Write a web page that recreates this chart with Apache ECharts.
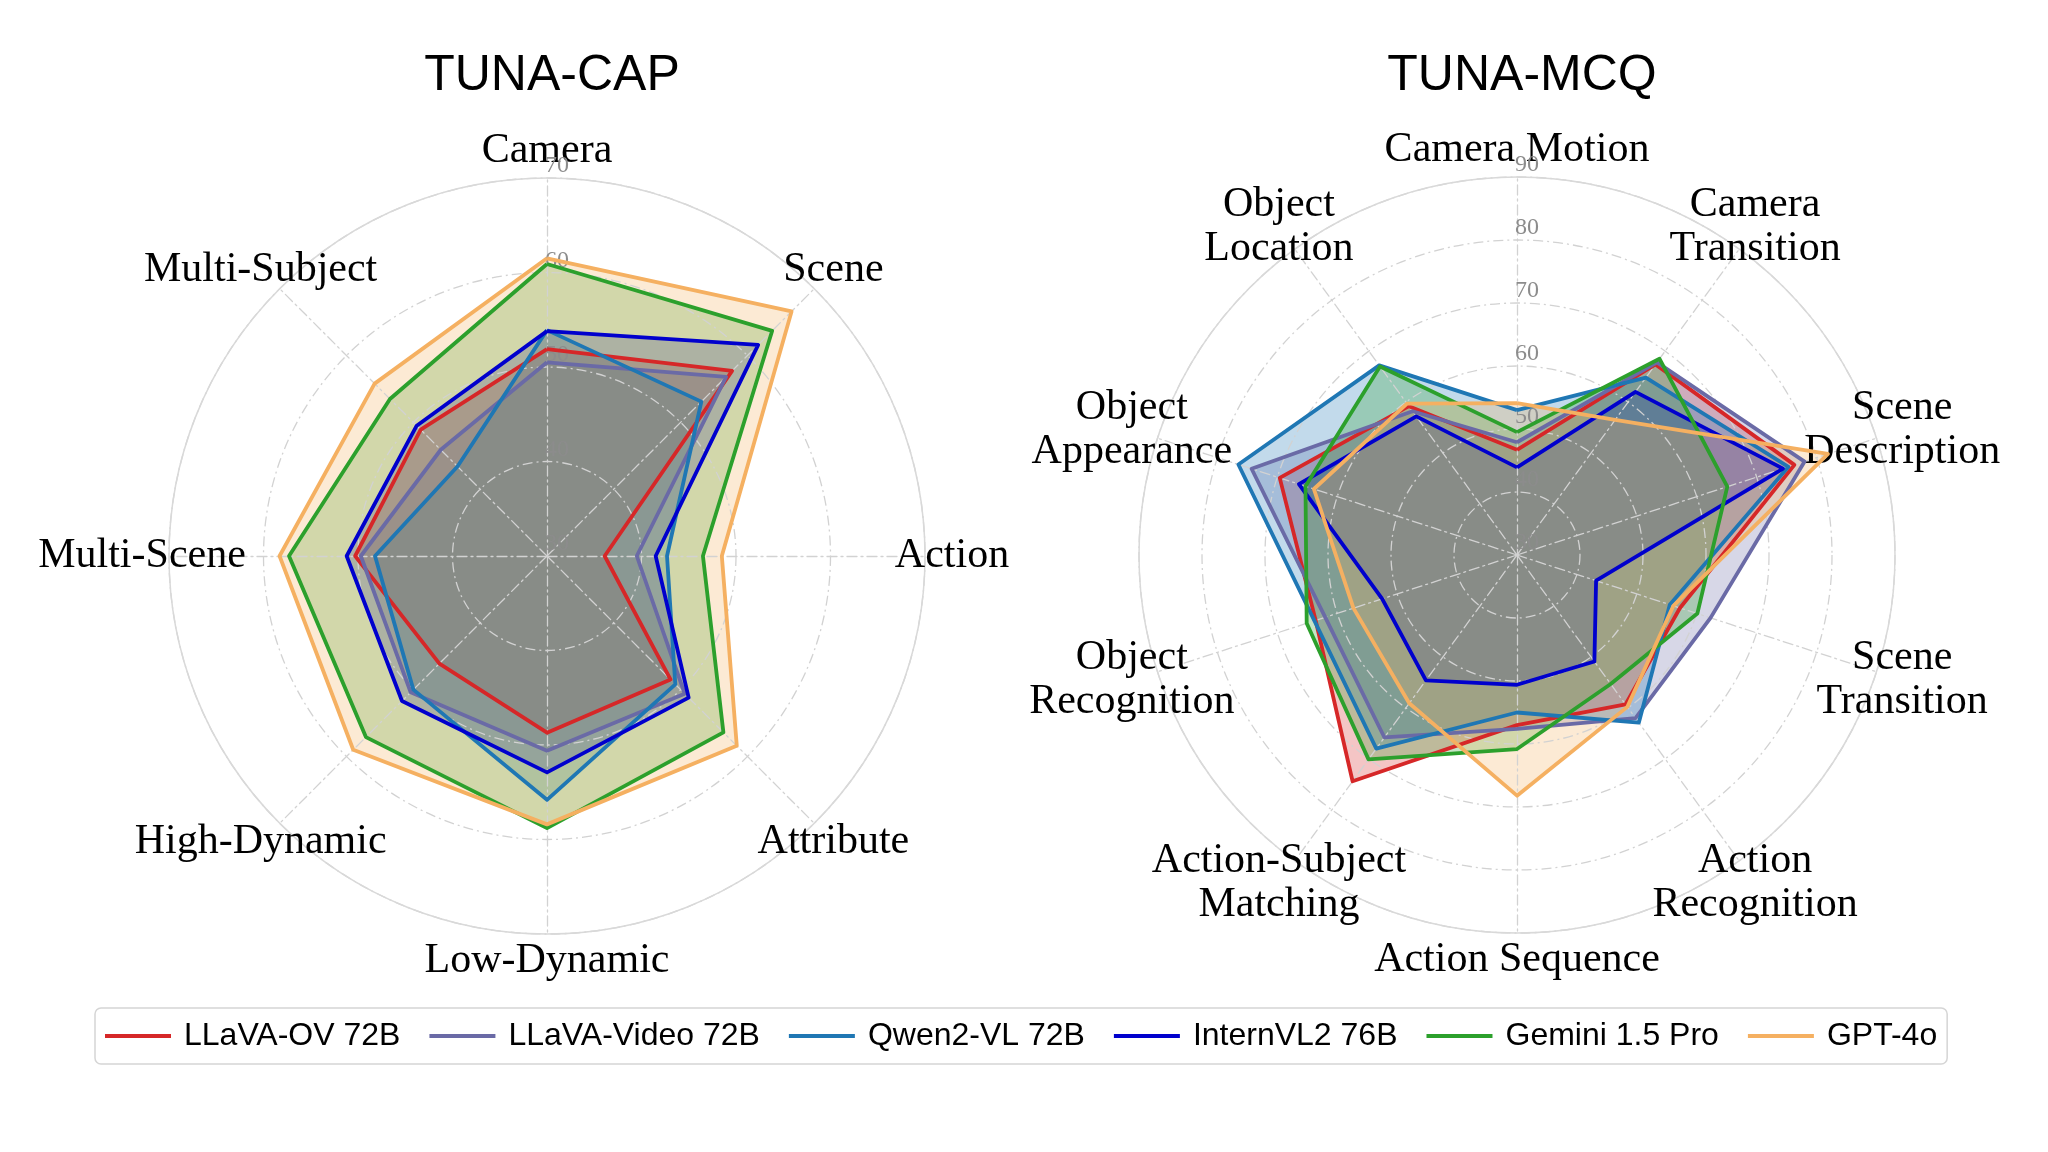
<!DOCTYPE html>
<html><head><meta charset="utf-8">
<script src="https://cdn.jsdelivr.net/npm/echarts@6/dist/echarts.min.js"></script>
<style>html,body{margin:0;padding:0;background:#fff}#chart{width:2048px;height:1152px}</style>
</head><body><div id="chart"></div>
<script>
// ---------- data ----------
const models = ['LLaVA-OV 72B', 'LLaVA-Video 72B', 'Qwen2-VL 72B', 'InternVL2 76B', 'Gemini 1.5 Pro', 'GPT-4o'];
const colors = ['#d62728', '#6a6aa6', '#1f77b4', '#0000cd', '#2ca02c', '#f5b061'];

// TUNA-CAP (clockwise from top)
const capCategories = ['Camera', 'Scene', 'Action', 'Attribute', 'Low-Dynamic', 'High-Dynamic', 'Multi-Scene', 'Multi-Subject'];
const capMin = 30, capMax = 70, capSplits = 4;
const capLlavaOV    = [51.9, 57.7, 36.1, 48.5, 48.7, 46.1, 50.3, 48.9];
const capLlavaVideo = [50.5, 56.8, 39.5, 50.6, 50.6, 50.4, 49.7, 45.9];
const capQwen2VL    = [53.9, 53.1, 42.7, 49.2, 55.8, 50.0, 48.2, 43.4];
const capInternVL2  = [53.8, 61.6, 41.5, 51.2, 52.9, 51.7, 51.2, 49.5];
const capGemini     = [60.9, 63.7, 46.5, 56.4, 58.8, 57.1, 57.3, 53.5];
const capGPT4o      = [61.5, 66.6, 48.5, 58.4, 58.4, 59.0, 58.3, 55.8];

// TUNA-MCQ (clockwise from top)
const mcqCategories = ['Camera Motion', 'Camera\nTransition', 'Scene\nDescription', 'Scene\nTransition', 'Action\nRecognition',
  'Action Sequence', 'Action-Subject\nMatching', 'Object\nRecognition', 'Object\nAppearance', 'Object\nLocation'];
const mcqMin = 30, mcqMax = 90, mcqSplits = 6;
const mcqLlavaOV    = [46.7, 67.4, 76.3, 57.2, 59.3, 57.0, 74.4, 63.6, 69.6, 59.2];
const mcqLlavaVideo = [47.9, 67.8, 78.0, 62.3, 62.0, 57.6, 65.8, 62.0, 74.3, 58.2];
const mcqQwen2VL    = [53.0, 64.8, 75.3, 55.5, 62.9, 55.0, 68.0, 63.8, 76.5, 67.2];
const mcqInternVL2  = [43.9, 62.0, 74.4, 43.2, 50.9, 50.6, 54.6, 52.5, 66.4, 57.2];
const mcqGemini     = [49.5, 68.5, 65.1, 60.1, 55.3, 60.8, 70.1, 65.1, 65.3, 67.0];
const mcqGPT4o      = [54.1, 56.5, 81.9, 56.1, 59.8, 68.2, 59.1, 57.3, 63.9, 59.7];

const titles = ['TUNA-CAP', 'TUNA-MCQ'];

// ---------- build ----------
const capValues = [capLlavaOV, capLlavaVideo, capQwen2VL, capInternVL2, capGemini, capGPT4o];
const mcqValues = [mcqLlavaOV, mcqLlavaVideo, mcqQwen2VL, mcqInternVL2, mcqGemini, mcqGPT4o];

// ECharts lays indicators counter-clockwise; reorder so they read clockwise
const cw = arr => [arr[0]].concat(arr.slice(1).reverse());

const gridColor = '#d2d2d2';
const dashDot = [10, 4, 2, 4];
const serif = "'Liberation Serif', 'Times New Roman', serif";
const sans = "'Liberation Sans', Arial, sans-serif";

function mainRadar(center, cats, min, max, splits) {
  const ind = cw(cats).map((c, i) => {
    const o = { name: c, min: min, max: max, nameMoveOverlap: false };
    if (i === 0) {
      o.axisLabel = { show: true, color: '#8c8c8c', fontSize: 24, fontFamily: serif,
        align: 'left', verticalAlign: 'bottom', margin: 2 };
    }
    return o;
  });
  return {
    center: center, radius: 378, startAngle: 90, shape: 'circle', splitNumber: splits, z: 3,
    indicator: ind,
    nameGap: 27,
    axisName: { color: '#000', fontSize: 42, fontFamily: serif, align: 'center', verticalAlign: 'middle', lineHeight: 44 },
    splitLine: { lineStyle: { color: gridColor, width: 1.3, type: dashDot } },
    splitArea: { show: false },
    axisLine: { lineStyle: { color: gridColor, width: 1.3, type: dashDot } },
    axisTick: { show: false },
    axisLabel: { show: false }
  };
}
function outerRadar(center, cats, min, max) {
  return {
    center: center, radius: 378, startAngle: 90, shape: 'circle', splitNumber: 1, z: 3,
    indicator: cw(cats).map(c => ({ name: '', min: min, max: max })),
    axisName: { show: false },
    splitLine: { lineStyle: { color: '#d9d9d9', width: 1.5, type: 'solid' } },
    splitArea: { show: false },
    axisLine: { show: false }, axisTick: { show: false }, axisLabel: { show: false }
  };
}

const series = [];
[capValues, mcqValues].forEach((vals, r) => {
  // filled areas first (below the grid), outlines afterwards (on top)
  models.forEach((m, k) => {
    series.push({
      type: 'radar', radarIndex: r, name: m, z: 2, silent: true,
      symbol: 'none',
      itemStyle: { color: colors[k] },
      lineStyle: { width: 0, opacity: 0 },
      areaStyle: { color: colors[k], opacity: 0.27 },
      data: [{ name: m, value: cw(vals[k]) }]
    });
  });
  models.forEach((m, k) => {
    series.push({
      type: 'radar', radarIndex: r, name: m, z: 4,
      symbol: 'none',
      itemStyle: { color: colors[k] },
      lineStyle: { color: colors[k], width: 3.8 },
      data: [{ name: m, value: cw(vals[k]) }]
    });
  });
});

const option = {
  backgroundColor: '#fff',
  animation: false,
  title: [
    { text: titles[0], left: 547, top: 46, textAlign: 'center',
      textStyle: { fontFamily: sans, fontSize: 50, fontWeight: 'normal', color: '#000' } },
    { text: titles[1], left: 1517, top: 46, textAlign: 'center',
      textStyle: { fontFamily: sans, fontSize: 50, fontWeight: 'normal', color: '#000' } }
  ],
  legend: {
    data: models, left: 95, top: 1008, orient: 'horizontal',
    padding: [12, 10], itemGap: 29, itemWidth: 66, itemHeight: 4, icon: 'rect',
    borderColor: '#d5d5d5', borderWidth: 1.5, borderRadius: 6,
    textStyle: { fontFamily: sans, fontSize: 32, color: '#000', lineHeight: 32, padding: [0, 0, 0, 8] }
  },
  radar: [
    mainRadar([547, 556], capCategories, capMin, capMax, capSplits),
    mainRadar([1517, 555], mcqCategories, mcqMin, mcqMax, mcqSplits),
    outerRadar([547, 556], capCategories, capMin, capMax),
    outerRadar([1517, 555], mcqCategories, mcqMin, mcqMax)
  ],
  series: series
};

const chart = echarts.init(document.getElementById('chart'), null, { renderer: 'canvas' });
chart.setOption(option);
</script>
</body></html>
